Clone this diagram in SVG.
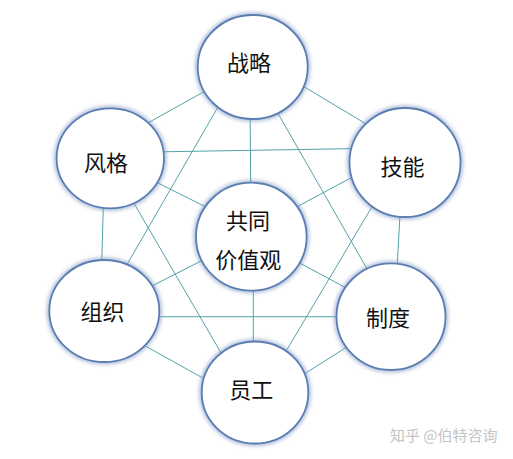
<svg xmlns="http://www.w3.org/2000/svg" width="513" height="459" viewBox="0 0 513 459">
<defs>
<filter id="glow" x="-20%" y="-20%" width="140%" height="140%">
<feGaussianBlur stdDeviation="2"/>
</filter>
</defs>
<style>
.ln{stroke:#52a3a8;stroke-width:1;fill:none}
.halo{fill:none;stroke:#7f96c0;stroke-width:4;filter:url(#glow);opacity:0.8}
.bd{fill:#ffffff;stroke:#5a7db3;stroke-width:1.8}
.t{font-family:"Noto Sans CJK SC","Noto Sans CJK JP",sans-serif;font-size:22px;fill:#111;text-anchor:middle}
.wm{font-family:"Noto Sans CJK SC",sans-serif;font-size:15px;fill:#c4c4c4}
</style>
<rect width="513" height="459" fill="#ffffff"/>
<g id="connectors">
<line class="ln" x1="140" y1="127.3" x2="215" y2="85.6"/>
<line class="ln" x1="290" y1="78.3" x2="375" y2="129.3"/>
<line class="ln" x1="250" y1="100" x2="250.8" y2="200"/>
<line class="ln" x1="222" y1="100" x2="125" y2="268"/>
<line class="ln" x1="272" y1="103" x2="370" y2="274"/>
<line class="ln" x1="150" y1="152" x2="360" y2="148.5"/>
<line class="ln" x1="103.5" y1="200" x2="101.5" y2="270"/>
<line class="ln" x1="150" y1="179" x2="210" y2="209"/>
<line class="ln" x1="128" y1="193" x2="224" y2="358"/>
<line class="ln" x1="360" y1="173" x2="292" y2="209.5"/>
<line class="ln" x1="400.5" y1="205" x2="397" y2="270"/>
<line class="ln" x1="376" y1="200" x2="282" y2="358"/>
<line class="ln" x1="205" y1="259" x2="148" y2="288"/>
<line class="ln" x1="295" y1="260.5" x2="350" y2="290"/>
<line class="ln" x1="253.3" y1="285" x2="253.3" y2="345"/>
<line class="ln" x1="155" y1="316.7" x2="340" y2="316.7"/>
<line class="ln" x1="140" y1="343" x2="210" y2="382"/>
<line class="ln" x1="350" y1="345" x2="300" y2="376.7"/>
</g>
<g id="node-zhanlue">
<ellipse class="halo" cx="252.7" cy="67" rx="55" ry="52"/>
<ellipse class="bd" cx="252.7" cy="67" rx="55" ry="52"/>
<text class="t" x="249" y="71">战略</text>
</g>
<g id="node-fengge">
<ellipse class="halo" cx="110.3" cy="158.3" rx="53.7" ry="50"/>
<ellipse class="bd" cx="110.3" cy="158.3" rx="53.7" ry="50"/>
<text class="t" x="106" y="171">风格</text>
</g>
<g id="node-jineng">
<ellipse class="halo" cx="405" cy="162.5" rx="55.5" ry="54.5"/>
<ellipse class="bd" cx="405" cy="162.5" rx="55.5" ry="54.5"/>
<text class="t" x="402.5" y="174.5">技能</text>
</g>
<g id="node-center">
<ellipse class="halo" cx="251.3" cy="236.7" rx="55.3" ry="54"/>
<ellipse class="bd" cx="251.3" cy="236.7" rx="55.3" ry="54"/>
<text class="t" x="248" y="228.5">共同</text>
<text class="t" x="248.3" y="267.5">价值观</text>
</g>
<g id="node-zuzhi">
<ellipse class="halo" cx="104.3" cy="311" rx="55" ry="51"/>
<ellipse class="bd" cx="104.3" cy="311" rx="55" ry="51"/>
<text class="t" x="102.5" y="320">组织</text>
</g>
<g id="node-zhidu">
<ellipse class="halo" cx="391" cy="316.7" rx="54.5" ry="53.3"/>
<ellipse class="bd" cx="391" cy="316.7" rx="54.5" ry="53.3"/>
<text class="t" x="388" y="326">制度</text>
</g>
<g id="node-yuangong">
<ellipse class="halo" cx="255" cy="392.5" rx="53.3" ry="51"/>
<ellipse class="bd" cx="255" cy="392.5" rx="53.3" ry="51"/>
<text class="t" x="251.3" y="397.5">员工</text>
</g>
<text class="wm" x="390" y="441">知乎 @伯特咨询</text>
</svg>
